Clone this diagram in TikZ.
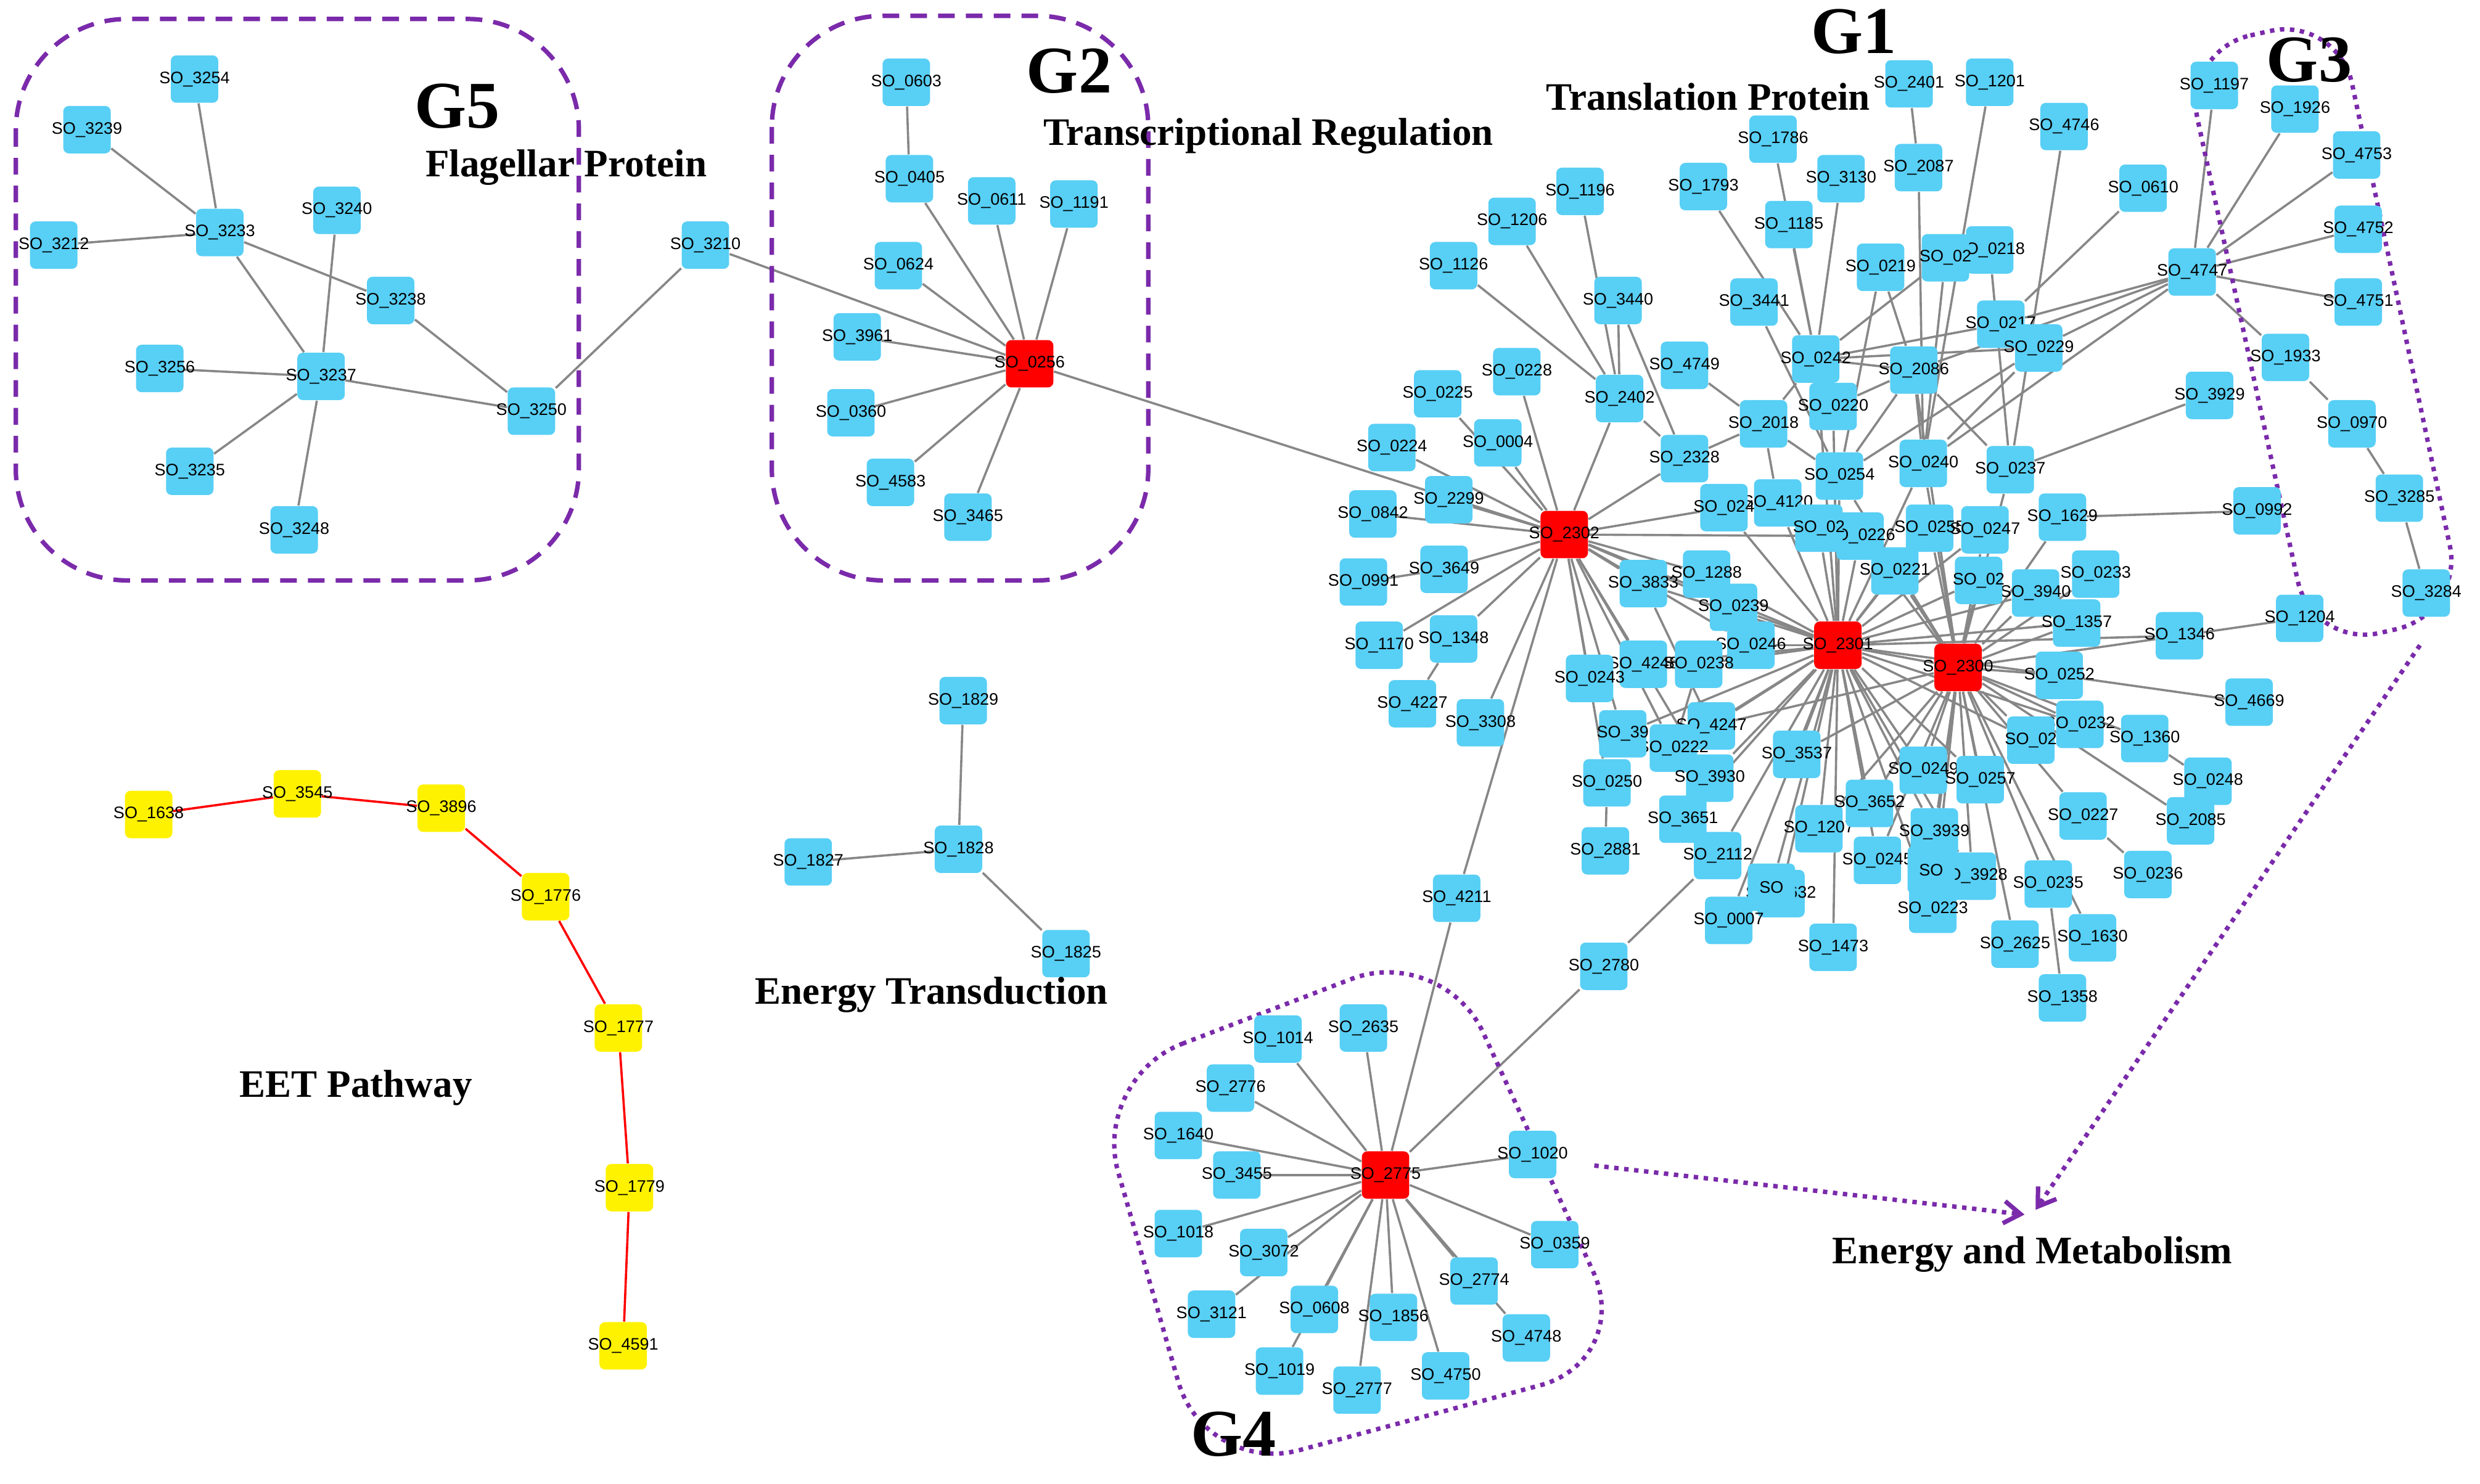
\documentclass[tikz,border=0pt]{standalone}
\usepackage{fontspec}
\setmainfont{Liberation Serif}
\newfontfamily\labfont{Liberation Sans}
\usetikzlibrary{backgrounds,arrows.meta}
\definecolor{genecyan}{RGB}{88,207,245}
\definecolor{grpurple}{RGB}{122,42,170}
\definecolor{edgegray}{RGB}{135,135,135}
\newcommand{\solbl}[1]{\makebox[0pt]{SO\_#1}}
\tikzset{
  gene/.style={rectangle, rounded corners=2pt, fill=genecyan, minimum size=0.6cm, inner sep=0pt, font=\labfont\fontsize{6}{7}\selectfont},
  hub/.style={gene, fill=red},
  eet/.style={gene, fill=yellow},
  edge/.style={edgegray, line width=0.8pt},
  title/.style={font=\bfseries\fontsize{24}{26}\selectfont},
  caption/.style={font=\bfseries\fontsize{14}{16}\selectfont},
  grpbox/.style={grpurple, line width=1.6pt}
}
\begin{document}
\begin{tikzpicture}[x=0.02cm, y=-0.02cm]
    \useasboundingbox (0,0) rectangle (1568,938);
    % group frames
    \draw[grpbox, dashed, dash pattern=on 6pt off 4pt, rounded corners=40] (10,12) rectangle (366,367);
    \draw[grpbox, dashed, dash pattern=on 6pt off 4pt, rounded corners=40] (488,10) rectangle (726,367);
    \draw[grpbox, dotted, rounded corners=25] (1380,32) -- (1478,10) -- (1558,388) -- (1462,410) -- cycle;
    \draw[grpbox, dotted, rounded corners=35] (690,682) -- (912,597) -- (1033,860) -- (762,933) -- cycle;
    % G5
    \foreach \x/\y/\id in {123/50/3254, 55/82/3239, 34/155/3212, 139/147/3233, 213/133/3240, 247/190/3238,
      101/233/3256, 203/238/3237, 336/260/3250, 120/298/3235, 186/335/3248, 446/155/3210}
      \node[gene] (s\id) at (\x,\y) {\solbl{\id}};
    % G2
    \foreach \x/\y/\id in {573/52/0603, 575/113/0405, 627/127/0611, 679/129/1191, 568/168/0624,
      542/213/3961, 538/261/0360, 563/305/4583, 612/327/3465}
      \node[gene] (s\id) at (\x,\y) {\solbl{\id}};
    \node[hub] (s0256) at (651,230) {\solbl{0256}};
    % energy transduction
    \foreach \x/\y/\id in {609/443/1829, 606/537/1828, 511/545/1827, 674/603/1825}
      \node[gene] (s\id) at (\x,\y) {\solbl{\id}};
    % EET pathway
    \foreach \x/\y/\id in {94/515/1638, 188/502/3545, 279/511/3896, 345/567/1776, 391/650/1777, 398/751/1779, 394/851/4591}
      \node[eet] (s\id) at (\x,\y) {\solbl{\id}};
    % G4
    \foreach \x/\y/\id in {808/657/1014, 862/650/2635, 778/688/2776, 745/718/1640, 782/743/3455, 745/780/1018,
      799/792/3072, 766/831/3121, 831/828/0608, 809/867/1019, 858/879/2777, 881/833/1856, 914/870/4750,
      932/810/2774, 965/846/4748, 983/787/0359, 969/730/1020, 921/568/4211, 1014/611/2780}
      \node[gene] (s\id) at (\x,\y) {\solbl{\id}};
    \node[hub] (s2775) at (876,743) {\solbl{2775}};
    % G1 and G3
    \foreach \x/\y/\id in {1121/88/1786, 1164/113/3130, 999/121/1196, 1077/118/1793, 956/140/1206, 1131/142/1185,
      919/168/1126, 1023/190/3440, 1109/191/3441, 1148/227/0242, 1065/231/4749, 959/235/0228, 1024/252/2402,
      909/249/0225, 1159/257/0220, 1115/268/2018, 880/283/0224, 947/280/0004, 1065/290/2328, 1163/301/0254,
      916/316/2299, 868/325/0842, 1124/318/4120, 1176/339/0226,
      1207/53/2401, 1258/52/1201, 1305/80/4746, 1213/106/2087, 1355/119/0610, 1400/54/1197, 1451/69/1926,
      1490/98/4753, 1491/145/4752, 1491/191/4751, 1386/172/4747, 1445/226/1933, 1487/268/0970, 1517/315/3285,
      1534/375/3284, 1397/250/3929, 1427/323/0992, 1189/169/0219, 1258/158/0218, 1265/205/0217, 1289/220/0229,
      1210/234/2086, 1216/293/0240, 1271/297/0237, 1304/327/1629, 1220/334/0255, 1255/335/0247,
      913/360/3649, 862/368/0991, 1039/369/3833, 1079/363/1288, 1096/384/0239, 872/408/1170, 919/404/1348,
      1107/408/0246, 1039/420/4248, 1074/420/0238, 1005/429/0243, 893/445/4227, 936/457/3308, 1082/459/4247,
      1058/473/0222, 1136/477/3537, 1016/495/0250, 1081/492/3930, 1064/518/3651, 1150/524/1207, 1015/538/2881,
      1086/541/2112, 1126/565/1632, 1093/582/0007, 1159/599/1473,
      1198/361/0221, 1325/363/0233, 1287/375/3940, 1313/394/1357, 1454/391/1204, 1378/402/1346, 1302/427/0252,
      1422/444/4669, 1315/458/0232, 1356/467/1360, 1396/494/0248, 1216/487/0249, 1252/493/0257, 1182/508/3652,
      1317/516/0227, 1385/519/2085, 1223/526/3939, 1187/544/0245, 1247/554/3928, 1295/559/0235, 1358/553/0236,
      1222/575/0223, 1274/597/2625, 1323/593/1630, 1304/631/1358}
      \node[gene] (s\id) at (\x,\y) {\solbl{\id}};
    \node[gene] (s024) at (1090,321) {\solbl{024}};
    \node[gene] (s02a) at (1150,334) {\solbl{02}};
    \node[gene] (s02b) at (1230,163) {\solbl{02}};
    \node[gene] (s02c) at (1251,367) {\solbl{02}};
    \node[gene] (s02d) at (1284,468) {\solbl{02}};
    \node[gene] (s39x) at (1026,464) {\solbl{39}};
    \node[gene] (sSOa) at (1120,561) {\makebox[0pt]{SO}};
    \node[gene] (sSOb) at (1221,550) {\makebox[0pt]{SO}};
    \node[hub] (s2302) at (989,338) {\solbl{2302}};
    \node[hub] (s2301) at (1162,408) {\solbl{2301}};
    \node[hub] (s2300) at (1238,422) {\solbl{2300}};
    % edges
    \begin{pgfonlayer}{background}
      \foreach \a/\b in {3254/3233, 3239/3233, 3212/3233, 3233/3238, 3233/3237, 3240/3237, 3256/3237, 3237/3250,
        3235/3237, 3248/3237, 3238/3250, 3210/3250, 3210/0256, 0603/0405, 0405/0256, 0611/0256, 1191/0256,
        0624/0256, 3961/0256, 0360/0256, 4583/0256, 3465/0256, 0256/2302, 1829/1828, 1827/1828, 1828/1825,
        4211/2302, 2780/2112, 4211/2775, 2780/2775,
        1126/2402, 1206/2402, 1196/2402, 3440/2402, 3440/2328, 2402/2328, 4749/2018, 2018/2328, 2018/0254,
        2018/4120, 1793/0242, 3441/0254, 1786/0242, 1185/0242, 3130/0242, 2018/0242, 0242/0217, 0242/0229,
        0242/2086, 0242/02b, 0219/0254, 0219/2086, 2087/0240, 1201/0240, 2401/2087, 4746/0237, 0610/0217,
        0218/0237, 4747/0217, 4747/0229, 4747/2086, 4747/0240, 4747/1197, 4747/1926, 4747/4753, 4747/4752,
        4747/4751, 4747/1933, 1933/0970, 0970/3285, 3285/3284, 3929/0237, 1629/0992, 1346/1204, 0252/4669,
        1360/0248, 0227/0236, 0235/1358, 2881/0250, 0229/0240, 0229/0254, 2086/0237, 2086/0240, 2086/0254,
        02b/0240, 0220/2086, 0991/3649, 4227/1348, 0238/0222, 3833/4247}
        \draw[edge] (s\a) -- (s\b);
      \foreach \b in {2402, 0228, 0225, 0004, 0224, 2299, 0842, 3649, 1170, 1348, 3308, 0243, 39x, 4248, 3833,
        1288, 0239, 0246, 2328, 024, 0226, 2301, 0250, 3930, 0222}
        \draw[edge] (s2302) -- (s\b);
      \foreach \b in {0239, 0246, 0238, 3833, 1288, 024, 4120, 02a, 0226, 0221, 0254, 0220, 0242, 0240, 0255,
        0247, 02c, 3940, 1357, 1346, 2300, 0252, 0232, 02d, 4247, 0222, 3930, 3537, 3651, 1207, 2112, SOa,
        1632, 0007, 1473, 3652, 0245, 0249, 3939, 0223, 3928, 0257, 39x, 4248}
        \draw[edge] (s2301) -- (s\b);
      \foreach \b in {0226, 0221, 0255, 0247, 02c, 3940, 0233, 1357, 1346, 0252, 0232, 02d, 1360, 2085, 0227,
        0235, 2625, 1630, 0257, 3928, SOb, 0223, 3939, 0245, 0249, 3652, 1207, 3537, 0240, 2086, 0237, 0254,
        1629, 4247}
        \draw[edge] (s2300) -- (s\b);
      \foreach \b in {1014, 2635, 2776, 1640, 3455, 1018, 3072, 3121, 0608, 1019, 2777, 1856, 4750, 2774, 4748,
        0359, 1020}
        \draw[edge] (s2775) -- (s\b);
      \foreach \a/\b in {1638/3545, 3545/3896, 3896/1776, 1776/1777, 1777/1779, 1779/4591}
        \draw[red, line width=0.8pt] (s\a) -- (s\b);
    \end{pgfonlayer}
    % labels and arrows
    \node[title] at (289,67) {G5};
    \node[caption] at (358,106) {Flagellar Protein};
    \node[title] at (676,45) {G2};
    \node[caption] at (802,86) {Transcriptional Regulation};
    \node[title] at (1172,20) {G1};
    \node[caption] at (1080,61) {Translation Protein};
    \node[title] at (1460,38) {G3};
    \node[title] at (780,907) {G4};
    \node[caption] at (589,629) {Energy Transduction};
    \node[caption] at (225,688) {EET Pathway};
    \node[caption] (metab) at (1285,793) {Energy and Metabolism};
    \coordinate (g4out) at (1008,737);
    \coordinate (g3out) at (1530,408);
    \draw[grpbox, dotted, -{Straight Barb[length=6pt,width=8pt]}] (g4out) -- (1280,768);
    \draw[grpbox, dotted, -{Straight Barb[length=6pt,width=8pt]}] (g3out) -- (1287,765);
  \end{tikzpicture}
\end{document}
